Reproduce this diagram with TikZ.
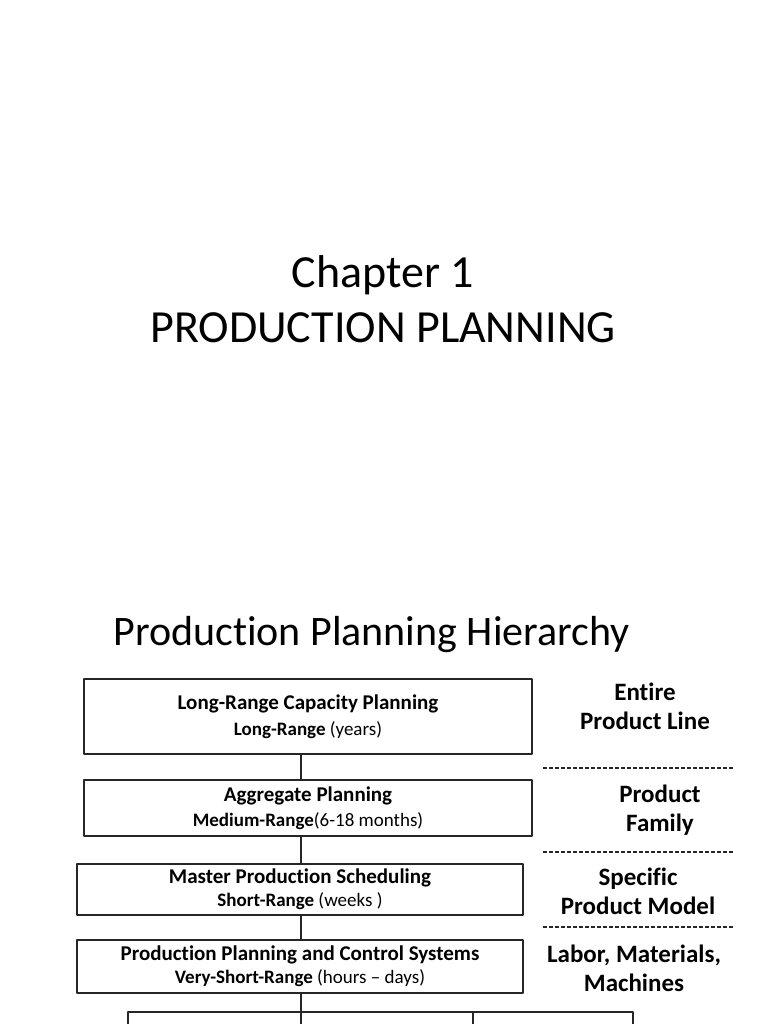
\documentclass[tikz,border=0pt]{standalone}
\usepackage{fontspec}
\setmainfont[Ligatures=NoCommon]{Carlito}
\begin{document}
\begin{tikzpicture}[x=1pt, y=-1pt, line cap=round, line join=round]
	\tikzset{planbox/.style={draw=black!85, line width=1.6pt, rectangle, inner sep=0pt, align=center, font=\fontsize{19}{23}\selectfont},
		levellabel/.style={align=center, inner sep=0pt, font=\fontsize{25}{29}\selectfont\bfseries},
		link/.style={draw=black!85, line width=1.6pt},
		divider/.style={line cap=butt, dash pattern=on 4pt off 2pt, line width=1.1pt, black!85}}
	\useasboundingbox (0,0) rectangle (768,1024);
	\clip (0,0) rectangle (768,1024);
	% titles
	\node[anchor=base, font=\fontsize{46}{55}\selectfont] (chap) at (383,287) {Chapter 1};
	\node[anchor=base, font=\fontsize{46}{55}\selectfont] (chaptitle) at (383,342) {PRODUCTION PLANNING};
	\node[anchor=base, font=\fontsize{42}{50}\selectfont] (hier) at (371.5,645) {Production Planning Hierarchy};
	% planning levels
	\node[planbox, minimum width=448pt, minimum height=75pt] (lrcp) at (308,716.5) {{\fontsize{21}{23}\selectfont\bfseries Long-Range Capacity Planning}\\[3pt]\textbf{Long-Range} (years)};
	\node[planbox, minimum width=448pt, minimum height=56pt] (agg) at (308,808) {{\fontsize{21}{23}\selectfont\bfseries Aggregate Planning}\\[2pt]\textbf{Medium-Range}(6-18 months)};
	\node[planbox, minimum width=446pt, minimum height=51pt] (mps) at (300,889.5) {{\fontsize{21}{23}\selectfont\bfseries Master Production Scheduling}\\\textbf{Short-Range} (weeks )};
	\node[planbox, minimum width=446pt, minimum height=53pt] (ppcs) at (300,966.5) {{\fontsize{21}{23}\selectfont\bfseries Production Planning and Control Systems}\\\textbf{Very-Short-Range} (hours -- days)};
	% connectors
	\coordinate (spine) at (301,0);
	\draw[link] (lrcp.south -| spine) -- (agg.north -| spine);
	\draw[link] (agg.south -| spine) -- (mps.north -| spine);
	\draw[link] (mps.south -| spine) -- (ppcs.north -| spine);
	\coordinate (fork) at (301,1012);
	\coordinate (leafa) at (128,1030);
	\coordinate (leafb) at (301,1030);
	\coordinate (leafc) at (473,1030);
	\coordinate (leafd) at (633,1030);
	\draw[link] (ppcs.south -| spine) -- (fork);
	\draw[link] (leafa) |- (fork) -| (leafd);
	\draw[link] (fork) -- (leafb);
	\draw[link] (leafc |- fork) -- (leafc);
	% scope labels
	\node[levellabel] (lineall) at (645,706.5) {Entire\\Product Line};
	\node[levellabel] (family) at (660,810) {Product\\Family};
	\node[levellabel] (model) at (638,891) {Specific\\Product Model};
	\node[levellabel] (resources) at (634,968.5) {Labor, Materials,\\Machines};
	\foreach \y in {768,852,927} \draw[divider] (543,\y) -- (734,\y);
\end{tikzpicture}
\end{document}
